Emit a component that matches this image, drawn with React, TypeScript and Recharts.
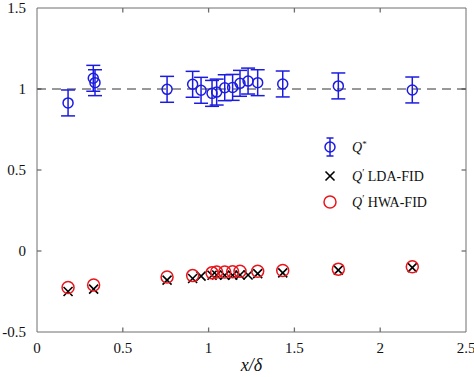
import React from 'react';
import { ComposedChart, Scatter, XAxis, YAxis, ReferenceLine, ErrorBar } from 'recharts';

const xTicks = [0, 0.5, 1, 1.5, 2, 2.5];
const yTicks = [-0.5, 0, 0.5, 1, 1.5];

const qStarX = [0.181, 0.328, 0.338, 0.758, 0.907, 0.956, 1.02, 1.047, 1.094, 1.14, 1.183, 1.23, 1.286, 1.432, 1.756, 2.187];
const qStarY = [0.914, 1.066, 1.039, 0.998, 1.029, 0.992, 0.973, 0.981, 1.008, 1.01, 1.035, 1.049, 1.039, 1.031, 1.019, 0.994];
const qStarErr = [0.08, 0.08, 0.08, 0.08, 0.08, 0.08, 0.08, 0.08, 0.08, 0.08, 0.08, 0.08, 0.08, 0.08, 0.08, 0.08];

const ldaX = [0.181, 0.33, 0.758, 0.907, 0.956, 1.02, 1.047, 1.094, 1.14, 1.183, 1.23, 1.286, 1.432, 1.756, 2.187];
const ldaY = [-0.25, -0.235, -0.18, -0.17, -0.155, -0.15, -0.148, -0.15, -0.15, -0.148, -0.148, -0.14, -0.135, -0.118, -0.103];

const hwaX = [0.181, 0.33, 0.758, 0.907, 1.02, 1.047, 1.094, 1.14, 1.183, 1.286, 1.432, 1.756, 2.187];
const hwaY = [-0.225, -0.21, -0.16, -0.152, -0.135, -0.13, -0.13, -0.128, -0.125, -0.125, -0.12, -0.112, -0.097];

const qStarData = qStarX.map((x, i) => ({ x, y: qStarY[i], err: qStarErr[i] }));
const ldaData = ldaX.map((x, i) => ({ x, y: ldaY[i] }));
const hwaData = hwaX.map((x, i) => ({ x, y: hwaY[i] }));

const X_MIN = 0, X_MAX = 2.5, Y_MIN = -0.5, Y_MAX = 1.5;
const TICK_DX = 0.026;
const TICK_DY = 0.028;

const innerX = xTicks.filter((v) => v > X_MIN && v < X_MAX);
const innerY = yTicks.filter((v) => v > Y_MIN && v < Y_MAX);

const BLUE = '#1c1ce0';
const RED = '#e8161c';
const AXIS = '#6e6e6e';
const SERIF = "'Liberation Serif', 'Times New Roman', serif";

const BlueCircle = (p: any) => (
  <circle cx={p.cx} cy={p.cy} r={5} fill="none" stroke={BLUE} strokeWidth={1.5} />
);
const RedCircle = (p: any) => (
  <circle cx={p.cx} cy={p.cy} r={6} fill="none" stroke={RED} strokeWidth={1.5} />
);
const Cross = (p: any) => {
  const s = 4.5;
  return (
    <g stroke="#000" strokeWidth={1.6}>
      <line x1={p.cx - s} y1={p.cy - s} x2={p.cx + s} y2={p.cy + s} />
      <line x1={p.cx - s} y1={p.cy + s} x2={p.cx + s} y2={p.cy - s} />
    </g>
  );
};

const tickStyle = { fill: '#111', fontSize: 15, fontFamily: SERIF };

const LegendBox = () => (
  <svg width={150} height={80} style={{ position: 'absolute', left: 318, top: 135 }}>
    <g>
      <line x1={12} y1={3} x2={12} y2={21} stroke={BLUE} strokeWidth={1.5} />
      <line x1={8.5} y1={3} x2={15.5} y2={3} stroke={BLUE} strokeWidth={1.5} />
      <line x1={8.5} y1={21} x2={15.5} y2={21} stroke={BLUE} strokeWidth={1.5} />
      <circle cx={12} cy={12} r={5} fill="none" stroke={BLUE} strokeWidth={1.5} />
      <text x={34} y={17} fontFamily={SERIF} fontSize={14} fill="#111">
        <tspan fontStyle="italic">Q</tspan>
        <tspan dy={-5} fontSize={9}>*</tspan>
      </text>
    </g>
    <g>
      <g stroke="#000" strokeWidth={1.6}>
        <line x1={7.5} y1={36.5} x2={16.5} y2={45.5} />
        <line x1={7.5} y1={45.5} x2={16.5} y2={36.5} />
      </g>
      <text x={34} y={46} fontFamily={SERIF} fontSize={14} fill="#111">
        <tspan fontStyle="italic">Q</tspan>
        <tspan dy={-5} fontSize={10}>′</tspan>
        <tspan dy={5}> LDA-FID</tspan>
      </text>
    </g>
    <g>
      <circle cx={12} cy={67} r={6} fill="none" stroke={RED} strokeWidth={1.5} />
      <text x={34} y={72} fontFamily={SERIF} fontSize={14} fill="#111">
        <tspan fontStyle="italic">Q</tspan>
        <tspan dy={-5} fontSize={10}>′</tspan>
        <tspan dy={5}> HWA-FID</tspan>
      </text>
    </g>
  </svg>
);

export default function App() {
  return (
    <div style={{ position: 'absolute', left: 0, top: 0, width: 474, height: 377, background: '#fff' }}>
      <ComposedChart width={474} height={377} margin={{ top: 7, right: 7, left: 36, bottom: 0 }}>
        <XAxis
          xAxisId="b"
          type="number"
          dataKey="x"
          domain={[X_MIN, X_MAX]}
          ticks={xTicks}
          interval={0}
          height={45}
          tickLine={false}
          tickSize={0}
          tickMargin={10}
          stroke={AXIS}
          tick={tickStyle}
          tickFormatter={(v: number) => String(v)}
          label={{ value: 'x/δ', position: 'insideBottom', offset: 6, style: { fontStyle: 'italic', fontSize: 18, fill: '#111', fontFamily: SERIF } }}
        />
        <XAxis
          xAxisId="t"
          orientation="top"
          type="number"
          domain={[X_MIN, X_MAX]}
          height={1}
          tick={false}
          tickLine={false}
          stroke={AXIS}
        />
        <YAxis
          yAxisId="l"
          type="number"
          domain={[Y_MIN, Y_MAX]}
          ticks={yTicks}
          interval={0}
          width={1}
          tickLine={false}
          tickSize={0}
          tickMargin={11}
          stroke={AXIS}
          tick={tickStyle}
          tickFormatter={(v: number) => String(v)}
        />
        <YAxis
          yAxisId="r"
          orientation="right"
          type="number"
          domain={[Y_MIN, Y_MAX]}
          width={1}
          tick={false}
          tickLine={false}
          stroke={AXIS}
        />
        {innerX.map((v) => (
          <ReferenceLine key={'bt' + v} xAxisId="b" yAxisId="l" stroke={AXIS} strokeWidth={1.3}
            segment={[{ x: v, y: Y_MIN }, { x: v, y: Y_MIN + TICK_DY }]} />
        ))}
        {innerX.map((v) => (
          <ReferenceLine key={'tt' + v} xAxisId="b" yAxisId="l" stroke={AXIS} strokeWidth={1.3}
            segment={[{ x: v, y: Y_MAX }, { x: v, y: Y_MAX - TICK_DY }]} />
        ))}
        {innerY.map((v) => (
          <ReferenceLine key={'lt' + v} xAxisId="b" yAxisId="l" stroke={AXIS} strokeWidth={1.3}
            segment={[{ x: X_MIN, y: v }, { x: X_MIN + TICK_DX, y: v }]} />
        ))}
        {innerY.map((v) => (
          <ReferenceLine key={'rt' + v} xAxisId="b" yAxisId="l" stroke={AXIS} strokeWidth={1.3}
            segment={[{ x: X_MAX, y: v }, { x: X_MAX - TICK_DX, y: v }]} />
        ))}
        <ReferenceLine xAxisId="b" yAxisId="l" y={1} stroke="#333" strokeWidth={1} strokeDasharray="9 6" />
        <Scatter xAxisId="b" yAxisId="l" data={qStarData} dataKey="y" shape={BlueCircle} isAnimationActive={false}>
          <ErrorBar dataKey="err" direction="y" width={7} stroke={BLUE} strokeWidth={1.5} />
        </Scatter>
        <Scatter xAxisId="b" yAxisId="l" data={ldaData} dataKey="y" shape={Cross} isAnimationActive={false} />
        <Scatter xAxisId="b" yAxisId="l" data={hwaData} dataKey="y" shape={RedCircle} isAnimationActive={false} />
      </ComposedChart>
      <LegendBox />
    </div>
  );
}
